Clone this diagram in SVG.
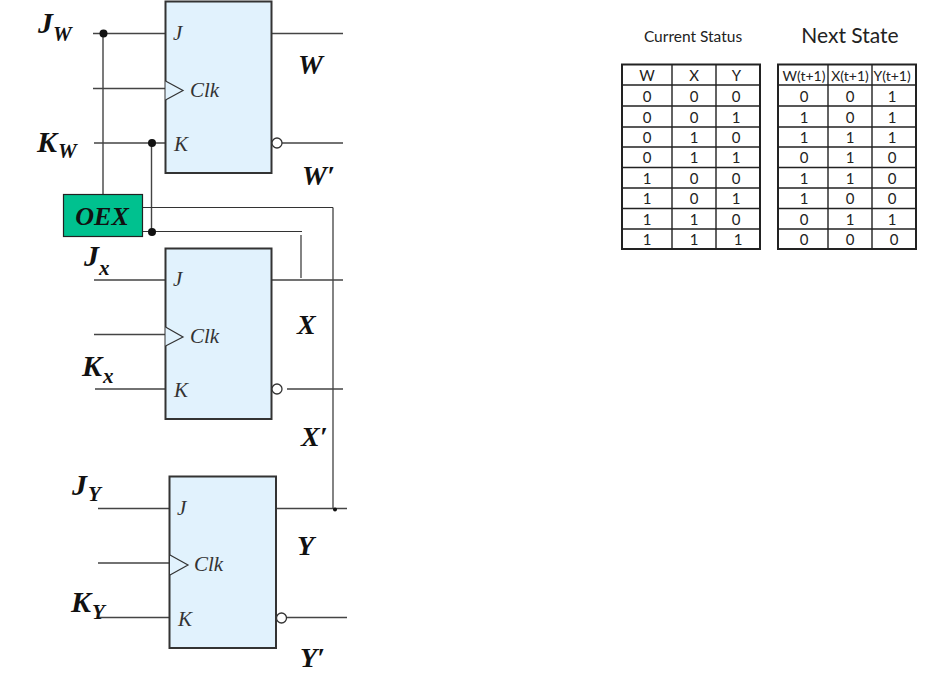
<svg xmlns="http://www.w3.org/2000/svg" width="927" height="682" viewBox="0 0 927 682">
<style>
.ff{fill:#e1f2fd;stroke:#333;stroke-width:2}
.w{fill:none;stroke:#444;stroke-width:1.4}
.thin{fill:none;stroke:#333;stroke-width:1.2}
.clk{fill:#e1f2fd;stroke:#333;stroke-width:1.2}
.bub{fill:#fff;stroke:#333;stroke-width:1.3}
.dot{fill:#111}
.pin{font:italic 21px "Liberation Serif",serif;fill:#333}
.sig{font:italic bold 30px "Liberation Serif",serif;fill:#111}
.sub{font:italic bold 21px "Liberation Serif",serif;fill:#111}
.out{font:italic bold 28px "Liberation Serif",serif;fill:#111}
.tb{font:15px Lato,"Open Sans",sans-serif;fill:#222;text-anchor:middle}
.grid{fill:none;stroke:#222;stroke-width:1.4}
.gridb{fill:#fff;stroke:#222;stroke-width:2}
</style>
<rect width="927" height="682" fill="#fff"/>
<g id="connectors">
<path class="w" d="M93 33.500H165M93 88.500H165M94 143H165M272 33.500H343M281 143H343"/>
<path class="w" d="M103 33.500V194M151.500 143V232"/>
<path class="thin" d="M142 207.500H333M333 207.500V509M142 231.500H302M301 235V278"/>
<path class="w" d="M94 280H165M94 334.500H165M95 389H165M272 280H343M287 389H343"/>
<path class="w" d="M98 508.500H169M98 563H169M98 617.500H169M276 508.500H347M286 617.500H347"/>
<circle class="dot" cx="103.500" cy="33.500" r="4"/>
<circle class="dot" cx="152" cy="143" r="4"/>
<circle class="dot" cx="152" cy="232" r="4"/>
<circle class="dot" cx="335" cy="509.500" r="2"/>
</g>
<g id="ff-w">
<rect class="ff" x="165.500" y="1.500" width="106" height="171.500"/>
<path class="clk" d="M165.500 81L183 90.500L165.500 100"/>
<circle class="bub" cx="277" cy="143" r="5"/>
<text class="pin" x="173" y="40">J</text><text class="pin" x="190" y="97">Clk</text><text class="pin" x="174" y="151">K</text>
</g>
<g id="ff-x">
<rect class="ff" x="165.500" y="248.500" width="106" height="170.500"/>
<path class="clk" d="M165.500 327L183 337L165.500 346"/>
<circle class="bub" cx="277" cy="389" r="5"/>
<text class="pin" x="173" y="286">J</text><text class="pin" x="190" y="343">Clk</text><text class="pin" x="174" y="397">K</text>
</g>
<g id="ff-y">
<rect class="ff" x="169.500" y="476.500" width="106.500" height="171.500"/>
<path class="clk" d="M170 555L188 565L170 575"/>
<circle class="bub" cx="281.500" cy="618" r="5"/>
<text class="pin" x="177" y="515">J</text><text class="pin" x="194" y="571">Clk</text><text class="pin" x="178" y="626">K</text>
</g>
<g id="oex">
<rect x="63.500" y="194.500" width="79" height="42" fill="#00c18f" stroke="#222" stroke-width="1.200"/>
<text x="102" y="225" text-anchor="middle" style="font:italic bold 26px 'Liberation Serif',serif;fill:#111">OEX</text>
</g>
<g id="labels">
<text class="sig" x="38" y="33">J</text><text class="sub" x="53" y="41">W</text>
<text class="sig" x="37" y="152">K</text><text class="sub" x="58" y="158">W</text>
<text class="sig" x="84" y="266">J</text><text class="sub" x="99" y="275">x</text>
<text class="sig" x="82" y="376">K</text><text class="sub" x="103" y="383">x</text>
<text class="sig" x="72" y="495">J</text><text class="sub" x="88" y="501">Y</text>
<text class="sig" x="71" y="612">K</text><text class="sub" x="92" y="619">Y</text>
<text class="out" x="298" y="74">W</text><text class="out" x="302" y="185">W′</text>
<text class="out" x="297" y="334">X</text><text class="out" x="301" y="446">X′</text>
<text class="out" x="297" y="555">Y</text><text class="out" x="300" y="667">Y′</text>
</g>
<g id="table-current">
<text x="693" y="41.500" style="font:15.500px Lato,'Open Sans',sans-serif;fill:#222" text-anchor="middle">Current Status</text>
<rect class="gridb" x="622" y="64.500" width="138" height="184.500"/>
<path class="grid" d="M672 64.500V249M716 64.500V249M622 85H760M622 106H760M622 127H760M622 147H760M622 167.500H760M622 188H760M622 208.500H760M622 229H760"/>
<text class="tb" transform="translate(0 0.700)"><tspan x="647" y="80">W</tspan><tspan x="694" y="80">X</tspan><tspan x="738" y="80">Y</tspan>
<tspan x="647" y="101">0</tspan><tspan x="694" y="101">0</tspan><tspan x="738" y="101">0</tspan>
<tspan x="647" y="122">0</tspan><tspan x="694" y="122">0</tspan><tspan x="738" y="122">1</tspan>
<tspan x="647" y="142">0</tspan><tspan x="694" y="142">1</tspan><tspan x="738" y="142">0</tspan>
<tspan x="647" y="162">0</tspan><tspan x="694" y="162">1</tspan><tspan x="738" y="162">1</tspan>
<tspan x="647" y="183">1</tspan><tspan x="694" y="183">0</tspan><tspan x="738" y="183">0</tspan>
<tspan x="647" y="203">1</tspan><tspan x="694" y="203">0</tspan><tspan x="738" y="203">1</tspan>
<tspan x="647" y="224">1</tspan><tspan x="694" y="224">1</tspan><tspan x="738" y="224">0</tspan>
<tspan x="647" y="244">1</tspan><tspan x="694" y="244">1</tspan><tspan x="738" y="244">1</tspan></text>
</g>
<g id="table-next">
<text x="850" y="43" style="font:21px Lato,'Open Sans',sans-serif;fill:#222" text-anchor="middle">Next State</text>
<rect class="gridb" x="778" y="64.500" width="138" height="184.500"/>
<path class="grid" d="M828 64.500V249M872 64.500V249M778 85H916M778 106H916M778 127H916M778 147H916M778 167.500H916M778 188H916M778 208.500H916M778 229H916"/>
<text class="tb" transform="translate(0 0.700)"><tspan x="804" y="80" style="font-size:14px">W(t+1)</tspan><tspan x="850" y="80" style="font-size:14px">X(t+1)</tspan><tspan x="894" y="80" style="font-size:14px">Y(t+1)</tspan>
<tspan x="804" y="101">0</tspan><tspan x="850" y="101">0</tspan><tspan x="894" y="101">1</tspan>
<tspan x="804" y="122">1</tspan><tspan x="850" y="122">0</tspan><tspan x="894" y="122">1</tspan>
<tspan x="804" y="142">1</tspan><tspan x="850" y="142">1</tspan><tspan x="894" y="142">1</tspan>
<tspan x="804" y="162">0</tspan><tspan x="850" y="162">1</tspan><tspan x="894" y="162">0</tspan>
<tspan x="804" y="183">1</tspan><tspan x="850" y="183">1</tspan><tspan x="894" y="183">0</tspan>
<tspan x="804" y="203">1</tspan><tspan x="850" y="203">0</tspan><tspan x="894" y="203">0</tspan>
<tspan x="804" y="224">0</tspan><tspan x="850" y="224">1</tspan><tspan x="894" y="224">1</tspan>
<tspan x="804" y="244">0</tspan><tspan x="850" y="244">0</tspan><tspan x="894" y="244">0</tspan></text>
</g>
</svg>
